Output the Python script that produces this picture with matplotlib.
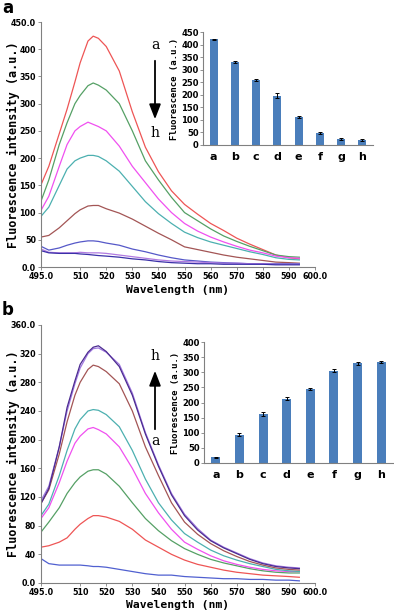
import matplotlib
matplotlib.use("Agg")
import matplotlib.pyplot as plt

W, H = 394, 611

wl = [495, 498, 502, 505, 508, 510, 513, 515, 517, 520, 525, 530, 535, 540,
      545, 550, 555, 560, 565, 570, 575, 580, 585, 590, 594]

# Panel a spectra (a -> h)
a_a = [151, 185, 245, 290, 340, 375, 415, 424, 420, 405, 360, 285, 220, 175, 140, 115, 97, 80, 67, 53, 42, 32, 22, 17, 15]
a_b = [121, 160, 225, 265, 300, 315, 333, 338, 334, 325, 300, 250, 195, 160, 128, 100, 85, 70, 57, 47, 38, 30, 22, 19, 18]
a_c = [104, 130, 185, 225, 250, 258, 266, 262, 258, 250, 222, 185, 155, 125, 100, 80, 66, 55, 46, 38, 31, 26, 20, 17, 16]
a_d = [93, 110, 150, 180, 195, 200, 205, 205, 203, 195, 176, 148, 120, 98, 80, 64, 54, 46, 40, 34, 28, 23, 17, 14, 13]
a_e = [55, 58, 72, 85, 98, 105, 112, 113, 113, 107, 99, 88, 75, 62, 50, 37, 32, 27, 22, 18, 15, 12, 9, 8, 7]
a_f = [38, 31, 35, 40, 44, 46, 48, 48, 47, 44, 40, 33, 28, 22, 17, 13, 11, 9, 8, 7, 6, 6, 6, 6, 6]
a_g = [33, 27, 26, 26, 26, 27, 26, 26, 26, 25, 22, 19, 16, 13, 11, 10, 9, 8, 7, 7, 6, 6, 5, 5, 5]
a_h = [30, 26, 25, 25, 25, 24, 23, 22, 21, 20, 18, 15, 13, 10, 8, 7, 6, 6, 5, 5, 5, 5, 4, 4, 4]

# Panel b spectra (a -> h)
b_a = [34, 27, 25, 25, 25, 25, 24, 23, 23, 22, 19, 16, 13, 11, 11, 9, 8, 7, 6, 6, 5, 5, 4, 4, 3]
b_b = [50, 52, 57, 63, 75, 82, 90, 94, 94, 92, 86, 75, 60, 50, 40, 32, 26, 22, 18, 15, 13, 11, 10, 9, 8]
b_c = [71, 85, 105, 125, 140, 148, 156, 158, 158, 152, 135, 112, 90, 73, 59, 48, 40, 33, 28, 24, 20, 17, 15, 14, 14]
b_d = [90, 105, 140, 170, 195, 205, 215, 217, 214, 208, 190, 160, 125, 98, 75, 57, 47, 38, 31, 26, 22, 19, 17, 16, 16]
b_e = [94, 110, 150, 185, 215, 228, 240, 242, 241, 235, 218, 185, 145, 112, 88, 69, 57, 46, 38, 32, 27, 23, 19, 17, 16]
b_f = [111, 130, 180, 225, 262, 280, 298, 304, 302, 295, 278, 240, 190, 150, 112, 85, 68, 55, 45, 37, 30, 25, 21, 19, 18]
b_g = [115, 135, 190, 240, 278, 300, 320, 327, 328, 322, 305, 265, 210, 165, 125, 96, 76, 60, 50, 42, 34, 28, 24, 22, 21]
b_h = [111, 132, 190, 245, 282, 305, 322, 329, 331, 323, 302, 262, 208, 163, 123, 94, 74, 59, 49, 41, 33, 27, 23, 21, 20]

categories = ["a", "b", "c", "d", "e", "f", "g", "h"]
bars_a = [421, 330, 258, 196, 111, 48, 23, 19]
err_a = [3, 5, 5, 10, 4, 5, 3, 3]
bars_b = [19, 94, 162, 213, 244, 305, 330, 333]
err_b = [2, 4, 8, 4, 3, 5, 5, 3]

xticks = [495, 510, 520, 530, 540, 550, 560, 570, 580, 590, 600]
xticklabels = ["495.0", "510", "520", "530", "540", "550", "560", "570", "580", "590", "600.0"]
yticks_a = [0, 50, 100, 150, 200, 250, 300, 350, 400, 450]
yticklabels_a = ["0.0", "50", "100", "150", "200", "250", "300", "350", "400", "450.0"]
yticks_b = [0, 40, 80, 120, 160, 200, 240, 280, 320, 360]
yticklabels_b = ["0.0", "40", "80", "120", "160", "200", "240", "280", "320", "360.0"]

cols_a = ["#ee5555", "#55a065", "#f050f0", "#4cb0b0", "#a35555", "#5558c8", "#b07ae0", "#3a30a8"]
cols_b = ["#5060d0", "#ee5555", "#55a065", "#f050f0", "#4cb0b0", "#a35555", "#a078e0", "#4b2b90"]

GRAY = "#808080"
MONO = "DejaVu Sans Mono"

fig = plt.figure(figsize=(W / 100, H / 100), dpi=100)


def rect(l, t, r, b):
    return [l / W, 1 - b / H, (r - l) / W, (b - t) / H]


def main_axes(r, series, cols, yticks, ylabels, ymax, ylab_x, xlab_y):
    ax = fig.add_axes(r)
    for s, c in zip(series, cols):
        ax.plot(wl, s, color=c, lw=0.9)
    ax.set_xlim(495, 600)
    ax.set_ylim(0, ymax)
    ax.set_xticks(xticks)
    ax.set_xticklabels(xticklabels, fontsize=5.8, fontweight="bold")
    ax.set_yticks(yticks)
    ax.set_yticklabels(ylabels, fontsize=5.8, fontweight="bold")
    for s in ["top", "right"]:
        ax.spines[s].set_visible(False)
    for s in ["left", "bottom"]:
        ax.spines[s].set_color(GRAY)
        ax.spines[s].set_linewidth(0.8)
    ax.tick_params(length=2.5, width=0.6, color=GRAY, pad=1.2)
    ax.set_xlabel("Wavelength (nm)", family=MONO, fontweight="bold", fontsize=8.2)
    ax.set_ylabel("Fluorescence intensity (a.u.)", family=MONO, fontweight="bold", fontsize=8.5)
    ax.yaxis.set_label_coords(ylab_x, 0.5)
    ax.xaxis.set_label_coords(0.5, xlab_y)
    ax.yaxis.label.set_va("center")
    ax.xaxis.label.set_va("center")
    return ax


def inset_axes(r, vals, errs, ymax, step):
    ax = fig.add_axes(r)
    x = list(range(len(categories)))
    ax.bar(x, vals, width=0.38, color="#4a7ebb", yerr=errs,
           error_kw=dict(ecolor="black", elinewidth=0.7, capsize=1.5, capthick=0.7))
    ax.set_xlim(-0.5, len(categories) - 0.5)
    ax.set_ylim(0, ymax)
    ax.set_yticks(list(range(0, ymax + 1, step)))
    ax.tick_params(axis="y", labelsize=6, length=2, width=0.6, color=GRAY, pad=1)
    for lab in ax.get_yticklabels():
        lab.set_fontweight("bold")
    ax.set_xticks(x)
    ax.set_xticklabels(categories, fontsize=8, fontweight="bold")
    ax.tick_params(axis="x", length=0, pad=5)
    for s in ["top", "right"]:
        ax.spines[s].set_visible(False)
    for s in ["left", "bottom"]:
        ax.spines[s].set_color(GRAY)
        ax.spines[s].set_linewidth(0.8)
    ax.set_ylabel("Fluorescence (a.u.)", family=MONO, fontweight="bold", fontsize=6.5, labelpad=2)
    ax.patch.set_alpha(0)
    return ax


main_axes(rect(41, 22, 315, 267), [a_a, a_b, a_c, a_d, a_e, a_f, a_g, a_h], cols_a,
          yticks_a, yticklabels_a, 450, (13 - 41) / 274, -(290 - 267) / 245)
main_axes(rect(41, 325, 315, 583), [b_a, b_b, b_c, b_d, b_e, b_f, b_g, b_h], cols_b,
          yticks_b, yticklabels_b, 360, (13 - 41) / 274, -(604.5 - 583) / 258)

inset_axes(rect(203, 32, 373, 145), bars_a, err_a, 450, 50)
inset_axes(rect(204, 342, 393, 463), bars_b, err_b, 400, 50)


def fx(x):
    return x / W


def fy(y):
    return 1 - y / H


arrow_kw = dict(arrowstyle="-|>,head_length=0.9,head_width=0.35", color="black", lw=1.3)
fig.add_artist(matplotlib.patches.FancyArrowPatch((fx(155), fy(58)), (fx(155), fy(122)),
               transform=fig.transFigure, mutation_scale=10, **arrow_kw))
fig.text(fx(155), fy(45), "a", family="DejaVu Serif", fontsize=10, ha="center", va="center")
fig.text(fx(155), fy(133), "h", family="DejaVu Serif", fontsize=10, ha="center", va="center")

fig.add_artist(matplotlib.patches.FancyArrowPatch((fx(155), fy(432)), (fx(155), fy(368)),
               transform=fig.transFigure, mutation_scale=10, **arrow_kw))
fig.text(fx(155), fy(356), "h", family="DejaVu Serif", fontsize=10, ha="center", va="center")
fig.text(fx(155), fy(441), "a", family="DejaVu Serif", fontsize=10, ha="center", va="center")

fig.text(fx(2), fy(8), "a", fontsize=12, fontweight="bold", ha="left", va="center")
fig.text(fx(2), fy(310), "b", fontsize=12, fontweight="bold", ha="left", va="center")

fig.savefig("out.png", dpi=100)
